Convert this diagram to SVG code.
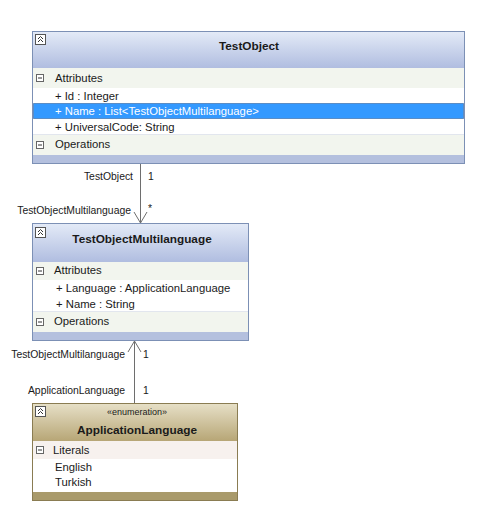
<svg xmlns="http://www.w3.org/2000/svg" width="497" height="522" viewBox="0 0 497 522">
<defs>
<linearGradient id="gBlue" x1="0" y1="0" x2="0" y2="1">
<stop offset="0" stop-color="#e3eaf7"/>
<stop offset="1" stop-color="#b0bde0"/>
</linearGradient>
<linearGradient id="gTan" x1="0" y1="0" x2="0" y2="1">
<stop offset="0" stop-color="#e6dfc6"/>
<stop offset="1" stop-color="#b7a676"/>
</linearGradient>
<g id="collapse">
<rect x="0.5" y="0.5" width="10" height="10" fill="#ffffff" stroke="#555" stroke-width="1"/>
<path d="M3 5 L5.5 2.5 L8 5 M3 8 L5.5 5.5 L8 8" fill="none" stroke="#333" stroke-width="1"/>
</g>
<g id="minus">
<rect x="0.5" y="0.5" width="7" height="7" fill="#ffffff" stroke="#666" stroke-width="1"/>
<path d="M2 4 L6 4" stroke="#333" stroke-width="1"/>
</g>
</defs>
<style>
text{font-family:"Liberation Sans",Arial,sans-serif;fill:#1a1a1a}
.t{font-size:11.3px}
.b{font-size:11.8px;font-weight:bold;text-anchor:middle}
.l{font-size:10.4px}
.r{text-anchor:end}
.s{font-size:9px;text-anchor:middle}
.w{fill:#ffffff}
.blue{stroke:#7c90b5;stroke-width:1}
.tan{stroke:#8a7c52;stroke-width:1}
.conn{stroke:#6e6e6e;stroke-width:1;fill:none}
</style>

<g id="TestObject">
<rect x="32.5" y="31.5" width="432" height="132" fill="#b4c0de" class="blue"/>
<rect x="33" y="32" width="431" height="36" fill="url(#gBlue)"/>
<rect x="33" y="68" width="431" height="20" fill="#f2f5ee"/>
<rect x="33" y="88" width="431" height="47" fill="#ffffff"/>
<rect x="33.5" y="103.5" width="430" height="15" fill="#3399ff" stroke="#1d4f8c" stroke-width="1" stroke-dasharray="1,1"/>
<line x1="33" y1="134.5" x2="464" y2="134.5" stroke="#e2e6ee"/>
<rect x="33" y="135" width="431" height="20" fill="#f2f5ee"/>
<use href="#collapse" x="35" y="34"/>
<text class="b" x="249" y="50">TestObject</text>
<use href="#minus" x="36" y="74"/>
<text class="t" x="55" y="82">Attributes</text>
<text class="t" x="55" y="100">+ Id : Integer</text>
<text class="t w" x="55" y="115">+ Name : List&lt;TestObjectMultilanguage&gt;</text>
<text class="t" x="55" y="131">+ UniversalCode: String</text>
<use href="#minus" x="36" y="141"/>
<text class="t" x="55" y="148">Operations</text>
</g>

<g id="TestObjectMultilanguage">
<rect x="32.5" y="223.5" width="216" height="117" fill="#b4c0de" class="blue"/>
<rect x="33" y="224" width="215" height="38" fill="url(#gBlue)"/>
<rect x="33" y="262" width="215" height="18" fill="#f2f5ee"/>
<rect x="33" y="280" width="215" height="32" fill="#ffffff"/>
<line x1="33" y1="311.5" x2="248" y2="311.5" stroke="#e2e6ee"/>
<rect x="33" y="312" width="215" height="20" fill="#f2f5ee"/>
<use href="#collapse" x="35" y="227"/>
<text class="b" x="142" y="243">TestObjectMultilanguage</text>
<use href="#minus" x="36" y="267"/>
<text class="t" x="54" y="274">Attributes</text>
<text class="t" x="56" y="292">+ Language : ApplicationLanguage</text>
<text class="t" x="56" y="308">+ Name : String</text>
<use href="#minus" x="36" y="318"/>
<text class="t" x="54" y="325">Operations</text>
</g>

<g id="ApplicationLanguage">
<rect x="32.5" y="403.5" width="205" height="97" fill="#a99a6b" class="tan"/>
<rect x="33" y="404" width="204" height="37" fill="url(#gTan)"/>
<rect x="33" y="441" width="204" height="18" fill="#f7f1ee"/>
<rect x="33" y="459" width="204" height="33" fill="#ffffff"/>
<use href="#collapse" x="35" y="406"/>
<text class="s" x="137" y="415">«enumeration»</text>
<text class="b" x="137" y="434">ApplicationLanguage</text>
<use href="#minus" x="36" y="446"/>
<text class="t" x="53" y="454">Literals</text>
<text class="t" x="55" y="471">English</text>
<text class="t" x="55" y="486">Turkish</text>
</g>

<g id="connectors">
<line class="conn" x1="140.5" y1="164" x2="140.5" y2="223"/>
<path class="conn" d="M134 212 L140.5 223 L147 212"/>
<text class="l r" x="133" y="180">TestObject</text>
<text class="l" x="148" y="180">1</text>
<text class="l r" x="131" y="214">TestObjectMultilanguage</text>
<text class="l" x="148" y="212">*</text>

<line class="conn" x1="134.5" y1="341" x2="134.5" y2="403"/>
<path class="conn" d="M128 352 L134.5 341 L141 352"/>
<text class="l r" x="125" y="358">TestObjectMultilanguage</text>
<text class="l" x="143" y="358">1</text>
<text class="l r" x="125" y="394">ApplicationLanguage</text>
<text class="l" x="143" y="394">1</text>
</g>
</svg>
